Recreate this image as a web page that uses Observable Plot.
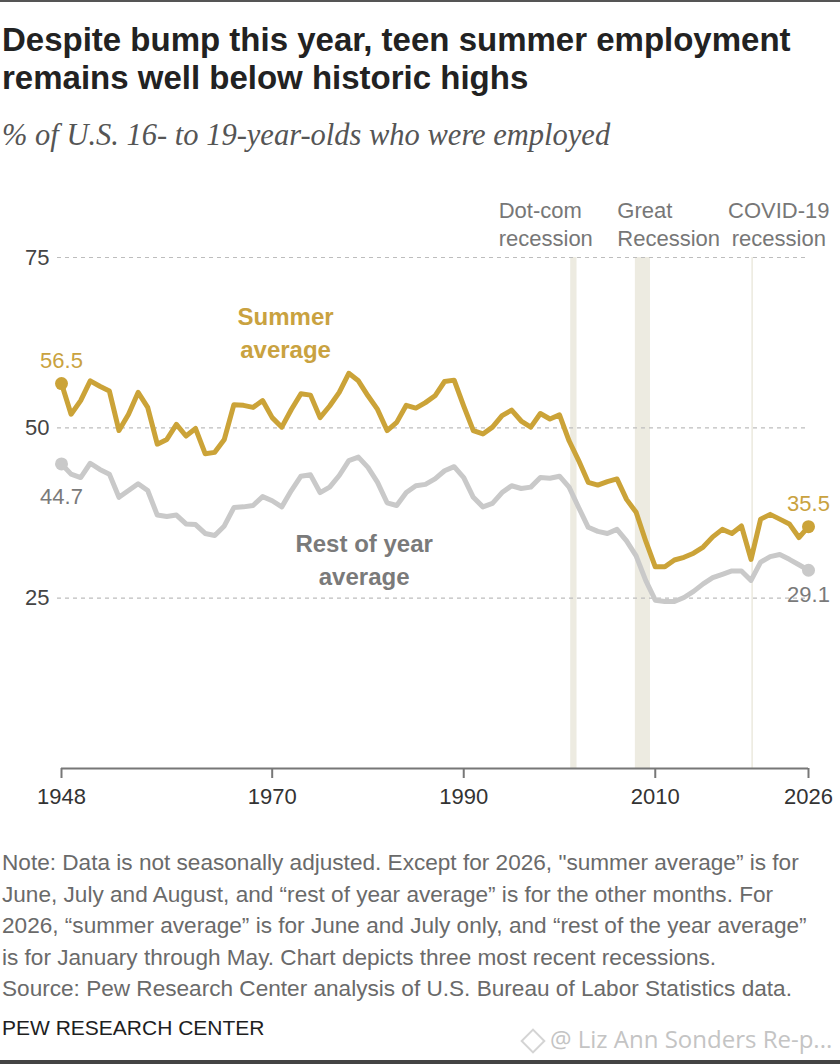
<!DOCTYPE html>
<html>
<head>
<meta charset="utf-8">
<script src="https://cdn.jsdelivr.net/npm/d3@7"></script>
<script src="https://cdn.jsdelivr.net/npm/@observablehq/plot@0.6"></script>
<style>
html, body { margin: 0; padding: 0; background: #fff; }
#page { position: relative; width: 840px; height: 1064px; overflow: hidden; font-family: "Liberation Sans", Arial, sans-serif; background: #fff; }
.topbar { position: absolute; left: 0; top: 0; width: 840px; height: 2px; background: #555; }
.botbar { position: absolute; left: 0; bottom: 0; width: 840px; height: 4px; background: #444; }
#title { position: absolute; left: 2px; top: 21px; font-weight: bold; font-size: 33px; line-height: 38px; color: #222; white-space: nowrap; }
#subtitle { position: absolute; left: 2px; top: 118px; font-family: "Liberation Serif", serif; font-style: italic; font-size: 30.5px; line-height: 34px; color: #555; white-space: nowrap; }
#chart { position: absolute; left: 0; top: 180px; }
#note { position: absolute; left: 2px; top: 847px; font-size: 22.6px; line-height: 31.6px; color: #6a6a6a; white-space: nowrap; }
#pew { position: absolute; left: 2px; top: 1016px; font-size: 21px; line-height: 24px; color: #1e1e1e; white-space: nowrap; }
#wm { position: absolute; left: 550px; top: 1024px; font-family: "Open Sans", sans-serif; font-size: 24px; line-height: 30px; color: #c4c4c4; white-space: nowrap; }
#wmicon { position: absolute; left: 524px; top: 1032px; width: 14px; height: 14px; border: 2px solid #d4d4d4; transform: rotate(45deg); }
</style>
</head>
<body>
<div id="page">
  <div class="topbar"></div>
  <div id="title">Despite bump this year, teen summer employment<br>remains well below historic highs</div>
  <div id="subtitle">% of U.S. 16- to 19-year-olds who were employed</div>
  <div id="chart"></div>
  <div id="note">Note: Data is not seasonally adjusted. Except for 2026, "summer average” is for<br>June, July and August, and “rest of year average” is for the other months. For<br>2026, “summer average” is for June and July only, and “rest of the year average”<br>is for January through May. Chart depicts three most recent recessions.<br>Source: Pew Research Center analysis of U.S. Bureau of Labor Statistics data.</div>
  <div id="pew">PEW RESEARCH CENTER</div>
  <div id="wmicon"></div>
  <div id="wm">@ Liz Ann Sonders Re-p...</div>
  <div class="botbar"></div>
</div>
<script>
// ---- Data ----
const years = [
  1948, 1949, 1950, 1951, 1952, 1953, 1954, 1955, 1956, 1957,
  1958, 1959, 1960, 1961, 1962, 1963, 1964, 1965, 1966, 1967,
  1968, 1969, 1970, 1971, 1972, 1973, 1974, 1975, 1976, 1977,
  1978, 1979, 1980, 1981, 1982, 1983, 1984, 1985, 1986, 1987,
  1988, 1989, 1990, 1991, 1992, 1993, 1994, 1995, 1996, 1997,
  1998, 1999, 2000, 2001, 2002, 2003, 2004, 2005, 2006, 2007,
  2008, 2009, 2010, 2011, 2012, 2013, 2014, 2015, 2016, 2017,
  2018, 2019, 2020, 2021, 2022, 2023, 2024, 2025, 2026
];
const summerAvg = [
  56.5, 52.0, 54.0, 56.9, 56.1, 55.4, 49.6, 52.0, 55.2, 53.0,
  47.6, 48.3, 50.5, 48.8, 49.9, 46.2, 46.4, 48.3, 53.4, 53.3,
  53.0, 54.0, 51.5, 50.1, 52.7, 55.0, 54.8, 51.5, 53.2, 55.2,
  58.0, 56.9, 54.7, 52.7, 49.6, 50.8, 53.3, 52.9, 53.7, 54.7,
  56.8, 57.0, 53.2, 49.6, 49.1, 50.1, 51.8, 52.6, 51.0, 50.1,
  52.1, 51.3, 51.9, 48.1, 45.2, 42.0, 41.6, 42.1, 42.5, 39.5,
  37.6, 33.4, 29.6, 29.6, 30.6, 31.0, 31.6, 32.5, 34.0, 35.1,
  34.5, 35.6, 30.7, 36.6, 37.3, 36.6, 35.9, 33.9, 35.5
];
const restAvg = [
  44.7, 43.2, 42.7, 44.8, 43.9, 43.2, 39.8, 40.8, 41.8, 40.8,
  37.2, 37.0, 37.2, 35.9, 35.8, 34.5, 34.2, 35.6, 38.3, 38.4,
  38.6, 39.9, 39.3, 38.4, 40.8, 42.9, 43.1, 40.5, 41.3, 43.0,
  45.2, 45.7, 44.2, 42.0, 39.0, 38.6, 40.5, 41.5, 41.7, 42.5,
  43.7, 44.3, 42.7, 39.8, 38.4, 38.9, 40.5, 41.5, 41.1, 41.3,
  42.7, 42.6, 42.9, 41.3, 38.3, 35.4, 34.8, 34.5, 35.1, 33.4,
  31.2, 27.6, 24.7, 24.5, 24.5, 25.1, 26.0, 27.1, 28.0, 28.5,
  29.0, 29.0, 27.6, 30.3, 31.1, 31.4, 30.7, 29.9, 29.1
];
const recessionNames = ["Dot-com\nrecession", "Great\nRecession", "COVID-19\nrecession"];
const recessionStart = [2001.17, 2007.92, 2020.08];
const recessionEnd = [2001.83, 2009.5, 2020.25];
const xTickValues = [1948, 1970, 1990, 2010, 2026];
const yTickValues = [25, 50, 75];
const seriesNames = ["Summer\naverage", "Rest of year\naverage"];
const seriesLabelX = [1971.4, 1979.6];
const seriesLabelY = [60.2, 26.9];

// ---- Tables built from arrays ----
const summer = years.map((y, i) => ({year: y, value: summerAvg[i]}));
const rest = years.map((y, i) => ({year: y, value: restAvg[i]}));
const recessions = recessionNames.map((n, i) => ({label: n, start: recessionStart[i], end: recessionEnd[i]}));
const ends = (arr) => [arr[0], arr[arr.length - 1]];

const GOLD = "#CBA338";
const GOLD_TEXT = "#C9A240";
const GRAY = "#C9C9C9";
const GRAY_TEXT = "#7a7a7a";

const recLabelStyle = [
  {dx: -72, textAnchor: "start"},
  {dx: -18, textAnchor: "start"},
  {dx: 27, textAnchor: "middle"}
];

const chart = Plot.plot({
  width: 840,
  height: 640,
  marginTop: 77,
  marginBottom: 52,
  marginLeft: 61,
  marginRight: 32,
  x: {domain: [1948, 2026]},
  y: {domain: [0, 75]},
  style: {fontFamily: "'Liberation Sans', Arial, sans-serif", background: "transparent", overflow: "visible"},
  marks: [
    Plot.rect(recessions, {x1: "start", x2: "end", fill: "#EDEBE1"}),
    Plot.ruleY(yTickValues, {stroke: "#bdbdbd", strokeWidth: 1.2, strokeDasharray: "4,4", insetLeft: -4}),
    Plot.ruleY([0], {stroke: "#777", strokeWidth: 2}),
    Plot.axisX({ticks: xTickValues, tickFormat: d => String(d), tickSize: 10, tickPadding: 10, fontSize: 22, stroke: "#777", strokeWidth: 2, fill: "#333", label: null}),
    Plot.axisY({ticks: yTickValues, tickSize: 0, tickPadding: 12, fontSize: 22, fill: "#444", label: null}),
    Plot.line(rest, {x: "year", y: "value", stroke: GRAY, strokeWidth: 5, strokeLinejoin: "round", strokeLinecap: "round"}),
    Plot.line(summer, {x: "year", y: "value", stroke: GOLD, strokeWidth: 5, strokeLinejoin: "round", strokeLinecap: "round"}),
    Plot.dot(ends(rest), {x: "year", y: "value", r: 6.5, fill: GRAY, stroke: null}),
    Plot.dot(ends(summer), {x: "year", y: "value", r: 6.5, fill: GOLD, stroke: null}),
    ...recessions.map((r, i) => Plot.text([r], {
      x: "start", text: "label", frameAnchor: "top", dy: -12, dx: recLabelStyle[i].dx,
      textAnchor: recLabelStyle[i].textAnchor, lineAnchor: "bottom", lineHeight: 1.27,
      fontSize: 22, fill: "#777"
    })),
    Plot.text([0], {x: () => seriesLabelX[0], y: () => seriesLabelY[0], text: () => seriesNames[0], lineAnchor: "bottom", lineHeight: 1.375, fontSize: 24, fontWeight: "bold", fill: GOLD_TEXT}),
    Plot.text([0], {x: () => seriesLabelX[1], y: () => seriesLabelY[1], text: () => seriesNames[1], lineAnchor: "bottom", lineHeight: 1.375, fontSize: 24, fontWeight: "bold", fill: GRAY_TEXT}),
    Plot.text([summer[0]], {x: "year", y: "value", text: d => d.value.toFixed(1), lineAnchor: "bottom", dy: -16, fontSize: 22, fill: GOLD_TEXT}),
    Plot.text([summer[summer.length - 1]], {x: "year", y: "value", text: d => d.value.toFixed(1), lineAnchor: "bottom", dy: -16, fontSize: 22, fill: GOLD_TEXT}),
    Plot.text([rest[0]], {x: "year", y: "value", text: d => d.value.toFixed(1), lineAnchor: "bottom", dy: 40, fontSize: 22, fill: GRAY_TEXT}),
    Plot.text([rest[rest.length - 1]], {x: "year", y: "value", text: d => d.value.toFixed(1), lineAnchor: "bottom", dy: 32, fontSize: 22, fill: GRAY_TEXT})
  ]
});
document.getElementById("chart").appendChild(chart);
</script>
</body>
</html>
